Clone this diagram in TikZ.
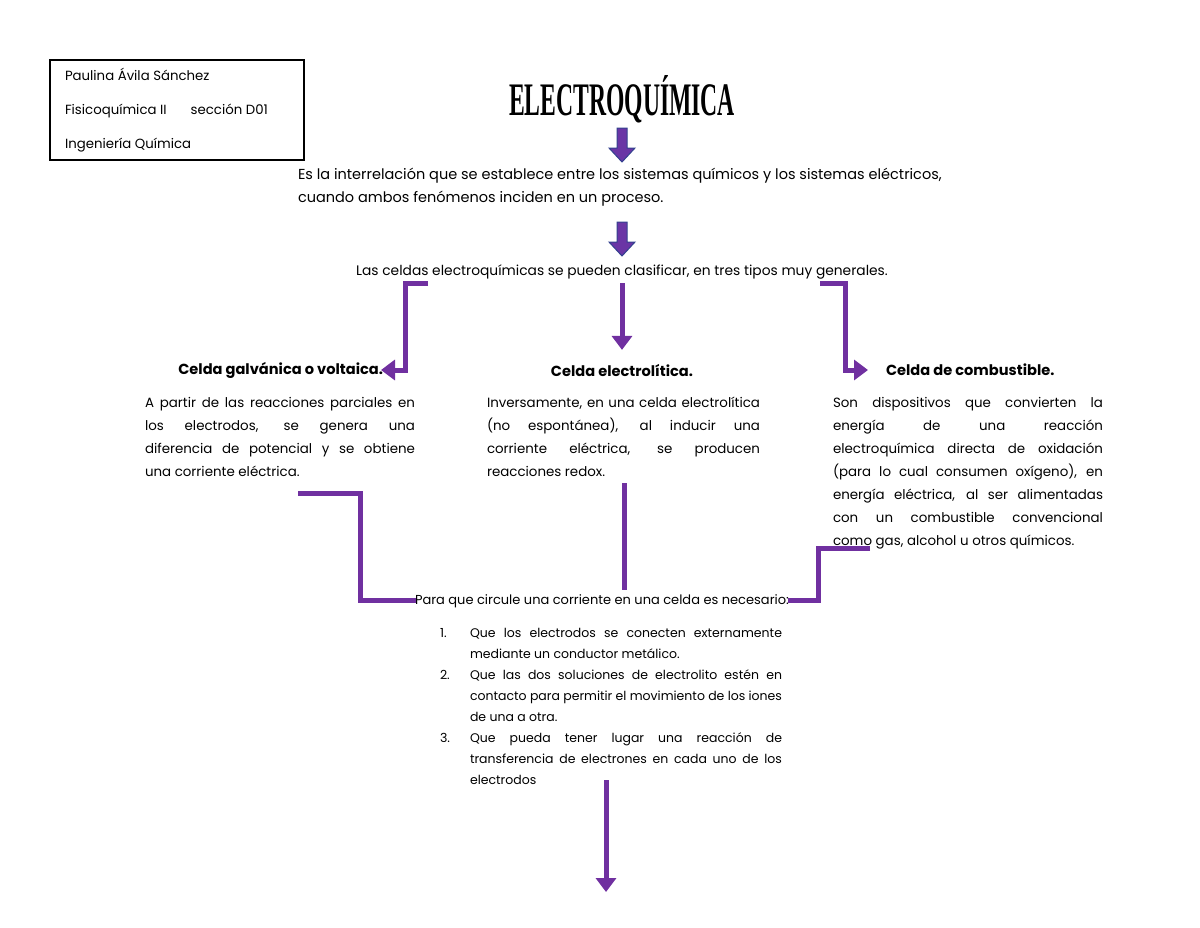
\documentclass[tikz,border=0pt]{standalone}
\usepackage{fontspec}
\setmainfont{Poppins}
\newfontfamily\titlefont{Liberation Serif}
\usetikzlibrary{arrows.meta}
\definecolor{purp}{HTML}{7030A0}
\definecolor{arrblue}{HTML}{33418F}
\definecolor{arrfill}{HTML}{6A35A5}
\begin{document}
\lefthyphenmin=62 \righthyphenmin=62 \hyphenpenalty=10000 \exhyphenpenalty=10000 \emergencystretch=20pt
\begin{tikzpicture}[x=1pt,y=-1pt,
  every node/.style={inner sep=0pt, outer sep=0pt},
  conn/.style={purp, line width=5pt},
  connarr/.style={conn, -{Triangle[width=20pt,length=14pt]}},
  barrow/.style={fill=arrfill, draw=arrblue, line width=1pt, line join=miter},
  body/.style={font=\fontsize{13.4}{23}\selectfont, align=justify, anchor=north west},
  head/.style={font=\fontsize{14.6}{16}\selectfont\bfseries},
  ]
\useasboundingbox (0,0) rectangle (1200,927);
% header box
\draw[line width=2pt] (50,60) rectangle (304,160);
\node[anchor=north west, align=left, font=\fontsize{13.3}{34}\selectfont] (hdr) at (65,68)
  {Paulina Ávila Sánchez\\Fisicoquímica II\hspace{24pt}sección D01\\Ingeniería Química};
% title
\node (title) at (622,99) {\titlefont\bfseries\resizebox{226pt}{40pt}{ELECTROQUÍMICA}};
% arrow 1
\coordinate (a1) at (622,128);
\draw[barrow] ([xshift=-5pt]a1) -- ++(10,0) -- ++(0,20) -- ++(8,0) -- ++(-13,14) -- ++(-13,-14) -- ++(8,0) -- cycle;
% definition
\node[anchor=north west, align=left, font=\fontsize{14.5}{23}\selectfont] (def) at (298,168)
  {Es la interrelación que se establece entre los sistemas químicos y los sistemas eléctricos,\\cuando ambos fenómenos inciden en un proceso.};
% arrow 2
\coordinate (a2) at (622,222);
\draw[barrow] ([xshift=-5pt]a2) -- ++(10,0) -- ++(0,20) -- ++(8,0) -- ++(-13,14) -- ++(-13,-14) -- ++(8,0) -- cycle;
% classification
\node[font=\fontsize{13.8}{23}\selectfont] (clas) at (622,272)
  {Las celdas electroquímicas se pueden clasificar, en tres tipos muy generales.};
% headings
\node[head, anchor=east] (galv) at (383,370) {Celda galvánica o voltaica.};
\node[head] (elec) at (622,370) {Celda electrolítica.};
\node[head, anchor=west] (comb) at (886,370) {Celda de combustible.};
% connectors
\coordinate (c1) at (428,283);
\coordinate (k1) at (405,370);
\draw[connarr] (c1) -| (k1) -- ([xshift=-2pt]galv.east);
\coordinate (c2) at (622,283);
\draw[connarr] (c2) -- ([yshift=14pt]elec.north);
\coordinate (c3) at (820,283);
\coordinate (k3) at (845,370);
\draw[connarr] (c3) -| (k3) -- ([xshift=-18pt]comb.west);
% paragraphs
\node[body, text width=270pt] (pg) at (145,397)
  {A partir de las reacciones parciales en\linebreak los electrodos, se genera una\linebreak diferencia de potencial y se obtiene\linebreak una corriente eléctrica.};
\node[body, text width=273pt] (pe) at (487,397)
  {Inversamente, en una celda electrolítica\linebreak (no espontánea), al inducir una\linebreak corriente eléctrica, se producen\linebreak reacciones redox.};
\node[body, text width=270pt] (pc) at (833,397)
  {Son dispositivos que convierten la\linebreak energía de una reacción\linebreak electroquímica directa de oxidación\linebreak (para lo cual consumen oxígeno), en\linebreak energía eléctrica, al ser alimentadas\linebreak con un combustible convencional\linebreak como gas, alcohol u otros químicos.};
% requirement
\node[font=\fontsize{13}{20}\selectfont, anchor=west] (para) at (415,601)
  {Para que circule una corriente en una celda es necesario:};
\coordinate (d1) at (298,493);
\coordinate (e1) at (360,600);
\draw[conn] (d1) -| (e1) -- ([xshift=1pt]para.west |- e1);
\coordinate (d2) at (624,483);
\coordinate (e2) at (624,590);
\draw[conn] (d2) -- (e2);
\coordinate (d3) at (870,548);
\coordinate (e3) at (818,600);
\draw[conn] (d3) -| (e3) -- ([xshift=-1pt]para.east |- e3);
% list
\node[anchor=north west, align=justify, text width=342pt, font=\fontsize{12.5}{21}\selectfont] (list) at (440,628)
  {\hangindent=30pt\hangafter=1\makebox[30pt][l]{1.}Que los electrodos se conecten externamente\linebreak mediante un conductor metálico.\par
   \hangindent=30pt\hangafter=1\makebox[30pt][l]{2.}Que las dos soluciones de electrolito estén en\linebreak contacto para permitir el movimiento de los iones\linebreak de una a otra.\par
   \hangindent=30pt\hangafter=1\makebox[30pt][l]{3.}Que pueda tener lugar una reacción de\linebreak transferencia de electrones en cada uno de los\linebreak electrodos\par};
% bottom arrow
\coordinate (f1) at (606,780);
\coordinate (f2) at (606,892);
\draw[connarr] (f1) -- (f2);
\end{tikzpicture}
\end{document}
